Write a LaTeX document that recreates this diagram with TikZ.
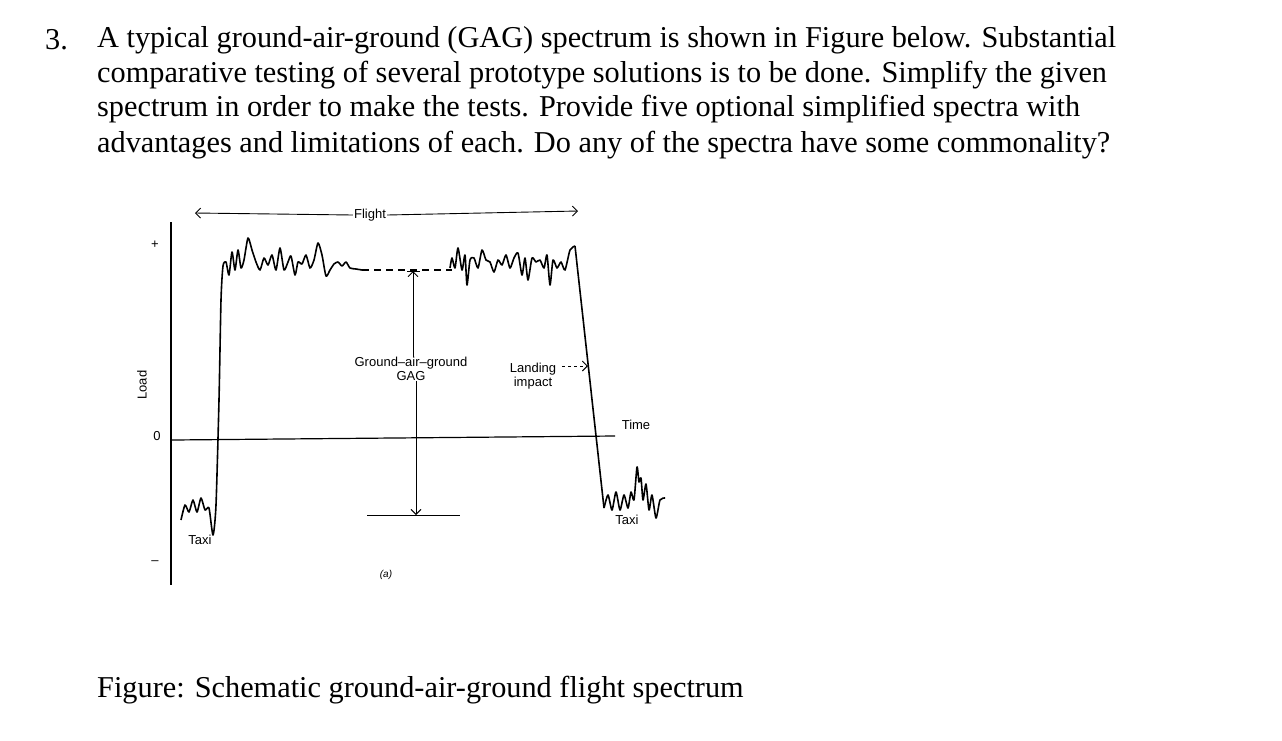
\documentclass[tikz,border=0pt]{standalone}
\usepackage{fontspec}
\setmainfont{Liberation Serif}
\newfontfamily\lab{Liberation Sans}
\usetikzlibrary{arrows.meta}
\begin{document}
\begin{tikzpicture}[x=1pt,y=-1pt,
  body/.style={anchor=west,inner sep=0pt,font=\fontsize{30.3}{34}\selectfont},
  small/.style={inner sep=0pt,font=\lab\fontsize{13}{14}\selectfont},
  sig/.style={line width=1.6pt,line join=round},
  axis/.style={line width=1.2pt},
  arr/.style={line width=0.9pt,-{Straight Barb[length=5pt]}}]
\useasboundingbox[fill=white] (0,0) rectangle (1282,740);
\node[body] (n3) at (45,40) {3.};
\node[body] (l1) at (97,40) {A typical ground-air-ground (GAG) spectrum is shown in Figure below. Substantial};
\node[body] (l2) at (97,75) {comparative testing of several prototype solutions is to be done. Simplify the given};
\node[body] (l3) at (97,109) {spectrum in order to make the tests. Provide five optional simplified spectra with};
\node[body] (l4) at (97,145) {advantages and limitations of each. Do any of the spectra have some commonality?};
\node[body] (cap) at (97,690) {Figure: Schematic ground-air-ground flight spectrum};
% axes
\coordinate (yt) at (171,222); \coordinate (yb) at (171,585);
\draw[axis] (yt) -- (yb);
\coordinate (tl) at (172,440); \coordinate (tr) at (615,436);
\draw[axis] (tl) -- (tr);
\node[small] (time) at (636,425) {Time};
\node[small] (plus) at (155,245) {+};
\node[small] (zero) at (157,436) {0};
\node[small] (minus) at (155,563) {–};
\node[small,rotate=90] (load) at (142,385) {Load};
% flight arrow
\node[small,fill=white,inner sep=1pt] (flight) at (370,215) {Flight};
\draw[arr] (flight.west) -- (195,213);
\draw[arr] (flight.east) -- (578,211);
% signal
\draw[sig] plot[smooth,tension=0.4] coordinates {(181,520)(185,505)(189,512)(193,500)(197,512)(201,498)(205,510)(209,508)(213,535)(216,505)(219,400)(221,300)(223,266)(226,262)(229,275)(232,252)(235,270)(238,250)(241,268)(244,260)(248,238)(252,250)(256,262)(260,270)(264,258)(268,265)(272,255)(276,270)(280,248)(284,270)(288,262)(291,256)(295,275)(298,262)(302,264)(306,255)(310,268)(314,260)(318,243)(322,255)(326,276)(330,270)(334,264)(338,262)(342,266)(346,262)(350,268)(356,269)(362,270)};
\draw[sig,dash pattern=on 7pt off 5pt] (362,270) -- (452,270);
\draw[sig] plot[smooth,tension=0.4] coordinates {(450,268)(452,258)(455,268)(458,248)(462,270)(465,255)(467,285)(470,260)(474,258)(478,268)(482,250)(486,260)(490,262)(494,272)(498,260)(502,265)(506,255)(510,268)(514,258)(518,253)(522,275)(525,258)(528,280)(532,258)(536,262)(540,260)(544,268)(547,255)(550,285)(553,260)(557,268)(561,262)(565,270)(570,250)(575,246)};
\draw[sig] (575,246) -- (604,508);
\draw[sig] plot[smooth,tension=0.4] coordinates {(604,508)(608,495)(612,510)(616,492)(620,510)(624,495)(628,508)(631,492)(634,500)(637,467)(639,482)(641,478)(643,500)(646,484)(649,510)(652,495)(656,518)(660,500)(665,498)};
% GAG arrow
\coordinate (gt) at (413,271); \coordinate (gb) at (416,515);
\node[small,align=center] (gag) at (411,369) {Ground–air–ground\\GAG};
\draw[arr] (gag.north -| gt) -- (gt);
\draw[arr] (gag.south -| gb) -- (gb);
\draw[line width=1pt] (367,515) -- (460,515);
\draw[line width=1pt] (407,271) -- (420,271);
% landing
\node[small,align=center] (land) at (533,376) {Landing\\impact};
\coordinate (li) at (588,366);
\draw[arr,dashed] (562,366) -- (li);
\node[small] (taxi1) at (200,540) {Taxi};
\node[small] (taxi2) at (627,520) {Taxi};
\node[small,font=\lab\itshape\fontsize{10}{11}\selectfont] (a) at (386,575) {(a)};
\end{tikzpicture}
\end{document}
